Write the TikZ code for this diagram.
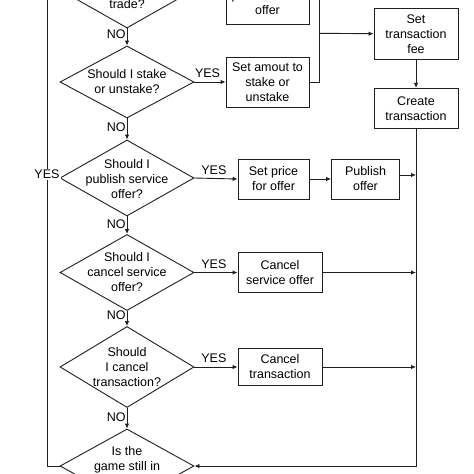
\documentclass[tikz,border=0pt]{standalone}
\usepackage{fontspec}
\setmainfont{Liberation Sans}
\usetikzlibrary{shapes.geometric,arrows.meta,calc}
\tikzset{
  base/.style={line width=0.9pt, draw=black!88},
  dia/.style={base, shape=diamond, minimum width=134pt, minimum height=76pt, inner sep=0pt},
  qtext/.style={align=center, inner sep=0pt, font=\fontsize{12.5}{15}\selectfont},
  box/.style={base, rectangle, align=center, inner sep=1pt, font=\fontsize{12.5}{15}\selectfont},
  conn/.style={base},
  arr/.style={base, -{Latex[length=5pt,width=4.5pt]}},
  lab/.style={font=\fontsize{12.5}{15}\selectfont, inner sep=1pt},
  ylab/.style={lab, above, yshift=2.5pt}
}
\begin{document}
\begin{tikzpicture}[x=1pt,y=-1pt]
\useasboundingbox (0,0) rectangle (474,474);
\clip (0,0) rectangle (474,474);
\fill[white] (0,0) rectangle (474,474);

% diamonds
\node[dia] (d0) at (127,-10) {};
\node[qtext] (d0t) at (127,-11) {Should I\\make a\\trade?};
\node[dia, minimum height=72pt] (d1) at (127,82) {};
\node[qtext] (d1t) at (127,81.5) {Should I stake\\or unstake?};
\node[dia] (d2) at (127,178) {};
\node[qtext] (d2t) at (127,179) {Should I\\publish service\\offer?};
\node[dia] (d3) at (127,272.5) {};
\node[qtext] (d3t) at (127,272.5) {Should I\\cancel service\\offer?};
\node[dia, minimum height=81pt] (d4) at (127,367) {};
\node[qtext] (d4t) at (127,367) {Should\\I cancel\\transaction?};
\node[dia, minimum height=74pt] (d5) at (127,466) {};
\node[qtext] (d5t) at (127,467.5) {Is the\\game still in\\progress?};

% boxes
\node[box, minimum width=83pt, minimum height=58.6pt] (b0) at (267.5,-5) {Create and\\publish trade\\offer};
\node[box, minimum width=83pt, minimum height=50pt] (b1) at (267.5,82) {Set amout to\\stake or\\unstake};
\node[box, minimum width=84pt, minimum height=51pt] (fee) at (416,33.7) {Set\\transaction\\fee};
\node[box, minimum width=84pt, minimum height=40pt] (create) at (416,108.3) {Create\\transaction};
\node[box, minimum width=71pt, minimum height=40pt] (price) at (273.5,179) {Set price\\for offer};
\node[box, minimum width=68pt, minimum height=40pt] (publish) at (365.5,179) {Publish\\offer};
\node[box, minimum width=84pt, minimum height=40pt] (cso) at (280,272.5) {Cancel\\service offer};
\node[box, minimum width=84pt, minimum height=37pt] (ct) at (280,367) {Cancel\\transaction};

% helper coordinates
\coordinate (j) at (319,33.3);
\coordinate (jtop) at (319,-40);
\coordinate (rb) at (416,466);
\coordinate (lb) at (47,466);
\coordinate (lt) at (47,-40);

% NO arrows
\draw[arr] (d0.south) -- node[lab, left, pos=0.35] {NO} (d1.north);
\draw[arr] (d1.south) -- node[lab, left, pos=0.4] {NO} (d2.north);
\draw[arr] (d2.south) -- node[lab, left, pos=0.45] {NO} (d3.north);
\draw[arr] (d3.south) -- node[lab, left, pos=0.3] {NO} (d4.north);
\draw[arr] (d4.south) -- node[lab, left, pos=0.45] {NO} (d5.north);

% YES arrows
\draw[arr] (d1.east) -- node[ylab, pos=0.42] {YES} (b1.west);
\draw[arr] (d2.east) -- node[ylab, pos=0.45] {YES} (price.west);
\draw[arr] (d3.east) -- node[ylab, pos=0.45] {YES} (cso.west);
\draw[arr] (d4.east) -- node[ylab, pos=0.45] {YES} (ct.west);
\draw[arr] (price.east) -- (publish.west);

% right collector
\draw[conn] (b1.east) -| (jtop);
\draw[arr] (j) -- (fee.west);
\draw[arr] (fee.south) -- (create.north);
\draw[arr] (create.south) -- (rb) -- (d5.east);
\draw[arr] ($(publish.east)+(0,-4)$) -- ($(publish.east -| create.south)+(0,-4)$);
\draw[arr] (cso.east) -- (cso.east -| create.south);
\draw[arr] (ct.east) -- (ct.east -| create.south);

% loop back
\draw[conn] (d5.west) -- (lb) -- node[lab, fill=white, pos=0.576] {YES} (lt);
\end{tikzpicture}
\end{document}
